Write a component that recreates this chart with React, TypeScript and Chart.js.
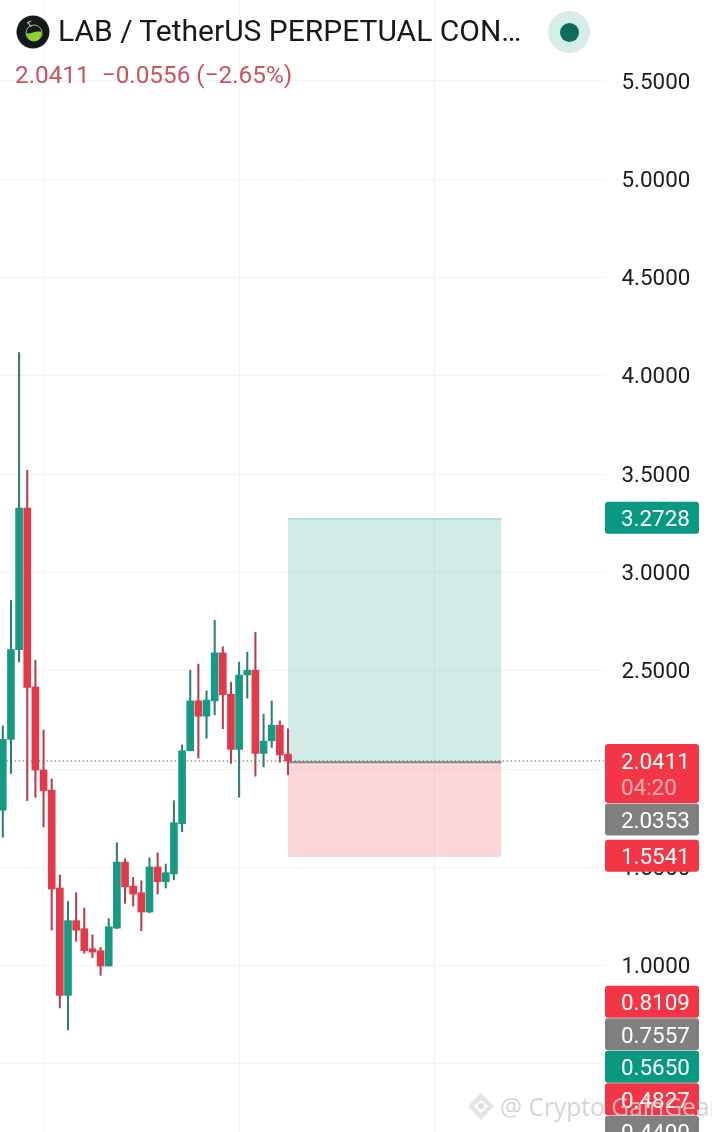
import React, { useEffect, useRef } from "react";
import { Chart, registerables } from "chart.js";

Chart.register(...registerables);

const opens = [1.791,2.151,2.608,3.327,2.418,1.995,1.893,1.395,0.849,1.229,1.188,1.086,1.076,0.998,1.191,1.527,1.405,1.371,1.273,1.502,1.427,1.467,1.722,2.093,2.347,2.269,2.347,2.591,2.381,2.100,2.479,2.503,2.080,2.144,2.223,2.076];
const highs = [2.220,2.859,4.118,3.520,2.554,2.198,1.950,1.462,1.327,1.371,1.293,1.157,1.093,1.239,1.625,1.544,1.449,1.432,1.549,1.574,1.517,1.839,2.123,2.503,2.534,2.398,2.757,2.622,2.442,2.544,2.595,2.696,2.279,2.347,2.245,2.205];
const lows = [1.653,1.978,2.545,1.839,1.856,1.706,1.181,0.785,0.673,1.124,1.063,1.042,0.951,0.998,1.188,1.317,1.303,1.178,1.269,1.364,1.395,1.437,1.681,2.093,2.056,2.157,2.276,2.205,2.029,1.857,2.361,1.964,2.011,2.110,2.035,1.971];
const closes = [2.151,2.608,3.327,2.415,1.995,1.889,1.391,0.849,1.229,1.181,1.076,1.069,0.998,1.198,1.527,1.401,1.364,1.273,1.502,1.427,1.473,1.727,2.093,2.347,2.269,2.351,2.591,2.378,2.100,2.478,2.503,2.080,2.142,2.223,2.072,2.0411];

const yTicks = [0.5,1,1.5,2,2.5,3,3.5,4,4.5,5,5.5];
const xGrid = [5,29,53];

const lastPrice = 2.0411;
const targetPrice = 3.2728;
const entryPrice = 2.0353;
const stopPrice = 1.5541;
const positionStart = 35;
const positionEnd = 61.2;

const tagPrices = [3.2728,2.0411,2.0353,1.5541,0.8109,0.7557,0.5650,0.4827,0.4400];
const tagLabels = ["3.2728","2.0411","2.0353","1.5541","0.8109","0.7557","0.5650","0.4827","0.4400"];
const tagColors = ["#089981","#f23645","#808080","#f23645","#f23645","#808080","#089981","#f23645","#808080"];
const tagSubLabels = ["","04:20","","","","","","",""];

const GREEN = "#179a83";
const RED = "#e03a4b";
const GREEN_WICK = "#2c7f73";
const RED_WICK = "#b33f4f";
const FONT = "Roboto, sans-serif";

const tagPlugin = {
  id: "priceTags",
  afterDraw(chart: any) {
    const { ctx, scales } = chart;
    const y = scales.y;
    const left = 605, width = 94, rowH = 32;
    let prevBottom = -Infinity;
    ctx.save();
    tagPrices.forEach((p, i) => {
      const sub = tagSubLabels[i];
      const natural = y.getPixelForValue(p) - 17;
      const top = Math.max(natural, prevBottom);
      const h = sub ? 59 : rowH;
      ctx.fillStyle = tagColors[i];
      ctx.beginPath();
      ctx.roundRect(left, top, width, h, 3);
      ctx.fill();
      ctx.font = `22.4px ${FONT}`;
      ctx.textAlign = "left";
      ctx.textBaseline = "middle";
      ctx.fillStyle = "#ffffff";
      ctx.fillText(tagLabels[i], 621, top + 19);
      if (sub) {
        ctx.fillStyle = "rgba(255,255,255,0.6)";
        ctx.fillText(sub, 621, top + 45);
      }
      prevBottom = top + h + 0.5;
    });
    ctx.restore();
  },
};

export default function App() {
  const ref = useRef<HTMLCanvasElement>(null);
  useEffect(() => {
    const idx = opens.map((_, i) => i);
    const up = idx.map((i) => closes[i] >= opens[i]);
    const chart = new Chart(ref.current as HTMLCanvasElement, {
      type: "bar",
      data: {
        datasets: [
          {
            type: "line",
            data: [{ x: positionStart, y: targetPrice }, { x: positionEnd, y: targetPrice }],
            fill: { value: entryPrice },
            backgroundColor: "rgba(8,153,129,0.19)",
            borderColor: "rgba(8,153,129,0.45)",
            borderWidth: 1,
            pointRadius: 0,
            order: 10,
          },
          {
            type: "line",
            data: [{ x: positionStart, y: stopPrice }, { x: positionEnd, y: stopPrice }],
            fill: { value: entryPrice },
            backgroundColor: "rgba(242,54,69,0.2)",
            borderColor: "rgba(242,54,69,0.05)",
            borderWidth: 1,
            pointRadius: 0,
            order: 9,
          },
          {
            type: "line",
            data: [{ x: positionStart, y: entryPrice }, { x: positionEnd, y: entryPrice }],
            borderColor: "#8a8a8a",
            borderWidth: 2,
            pointRadius: 0,
            fill: false,
            order: 8,
          },
          {
            type: "line",
            data: [{ x: -1, y: lastPrice }, { x: 75, y: lastPrice }],
            borderColor: "#6f5055",
            borderWidth: 1,
            borderDash: [1.5, 2.5],
            pointRadius: 0,
            fill: false,
            order: 7,
          },
          {
            type: "bar",
            data: idx.map((i) => ({ x: i, y: [lows[i], highs[i]] })),
            backgroundColor: idx.map((i) => (up[i] ? GREEN_WICK : RED_WICK)),
            barThickness: 1.4,
            grouped: false,
            order: 2,
          },
          {
            type: "bar",
            data: idx.map((i) => ({ x: i, y: [Math.min(opens[i], closes[i]), Math.max(opens[i], closes[i])] })),
            backgroundColor: idx.map((i) => (up[i] ? GREEN : RED)),
            barThickness: 7,
            grouped: false,
            order: 1,
          },
        ] as any,
      },
      options: {
        animation: false,
        responsive: false,
        layout: { padding: 0 },
        plugins: { legend: { display: false }, tooltip: { enabled: false }, title: { display: false } },
        scales: {
          x: {
            type: "linear",
            min: -0.344,
            max: 73.9,
            offset: false,
            border: { display: false },
            grid: { color: "#f3f4f5", lineWidth: 1, drawTicks: false, offset: false },
            ticks: { display: false },
            afterBuildTicks: (s: any) => { s.ticks = xGrid.map((value) => ({ value })); },
            afterFit: (s: any) => { s.height = 0; s.paddingLeft = 0; s.paddingRight = 0; },
          },
          y: {
            type: "linear",
            position: "right",
            min: 0.154,
            max: 5.912,
            border: { display: false },
            grid: { color: "#f3f4f5", lineWidth: 1, drawTicks: false },
            ticks: {
              color: "#1a1c22",
              font: { family: "Roboto, sans-serif", size: 22.4 },
              padding: 16.5,
              labelOffset: 2,
              align: "center",
              crossAlign: "near",
              autoSkip: false,
              callback: (v: any) => Number(v).toFixed(4),
            },
            afterBuildTicks: (s: any) => { s.ticks = yTicks.map((value) => ({ value })); },
            afterFit: (s: any) => { s.width = 107; s.paddingTop = 0; s.paddingBottom = 0; },
          },
        },
      } as any,
      plugins: [tagPlugin],
    });
    return () => chart.destroy();
  }, []);

  return (
    <div style={{ position: "absolute", left: 0, top: 0, width: 712, height: 1132, overflow: "hidden", background: "#fff" }}>
      <canvas ref={ref} width={712} height={1132} style={{ position: "absolute", left: 0, top: 0, width: 712, height: 1132 }} />
      <svg width={34} height={34} viewBox="0 0 34 34" style={{ position: "absolute", left: 16, top: 15 }}>
        <circle cx={17} cy={17} r={16.5} fill="#141a17" />
        <path d="M12 7 L15 12 M11 8 L15 6" stroke="#b9c9a8" strokeWidth={1.2} fill="none" />
        <circle cx={18} cy={18} r={8} fill="none" stroke="#9fb58a" strokeWidth={1} />
        <path d="M10.5 18 C14 20 19 15 25.6 17 C26 22 22 26 18 26 C14 26 10.8 22.5 10.5 18 Z" fill="#8fd02f" />
      </svg>
      <div style={{ position: "absolute", left: 58, top: 12, font: `30px ${FONT}`, color: "#16181d", whiteSpace: "nowrap", lineHeight: "38px" }}>
        LAB / TetherUS PERPETUAL CON…
      </div>
      <div style={{ position: "absolute", left: 15, top: 59, font: `24.3px ${FONT}`, color: "#c9545f", whiteSpace: "pre", lineHeight: "32px" }}>
        {"2.0411  −0.0556 (−2.65%)"}
      </div>
      <div style={{ position: "absolute", left: 548, top: 11, width: 42, height: 42, borderRadius: 21, background: "#d6ece8" }} />
      <div style={{ position: "absolute", left: 559.5, top: 22.5, width: 19, height: 19, borderRadius: 10, background: "#0c6b5a" }} />
      <svg width={30} height={32} viewBox="0 0 30 32" style={{ position: "absolute", left: 466, top: 1091 }}>
        <path d="M15 2 L28 15 L15 29 L2 15 Z M15 9 L8 15 L15 22 L22 15 Z" fill="rgba(205,205,205,0.55)" fillRule="evenodd" />
        <circle cx={15} cy={15} r={3} fill="rgba(205,205,205,0.7)" />
      </svg>
      <div style={{ position: "absolute", left: 500, top: 1090, font: `24.6px "Open Sans", sans-serif`, color: "rgba(205,205,205,0.85)", whiteSpace: "nowrap", lineHeight: "34px" }}>
        @ Crypto GainGear
      </div>
    </div>
  );
}
